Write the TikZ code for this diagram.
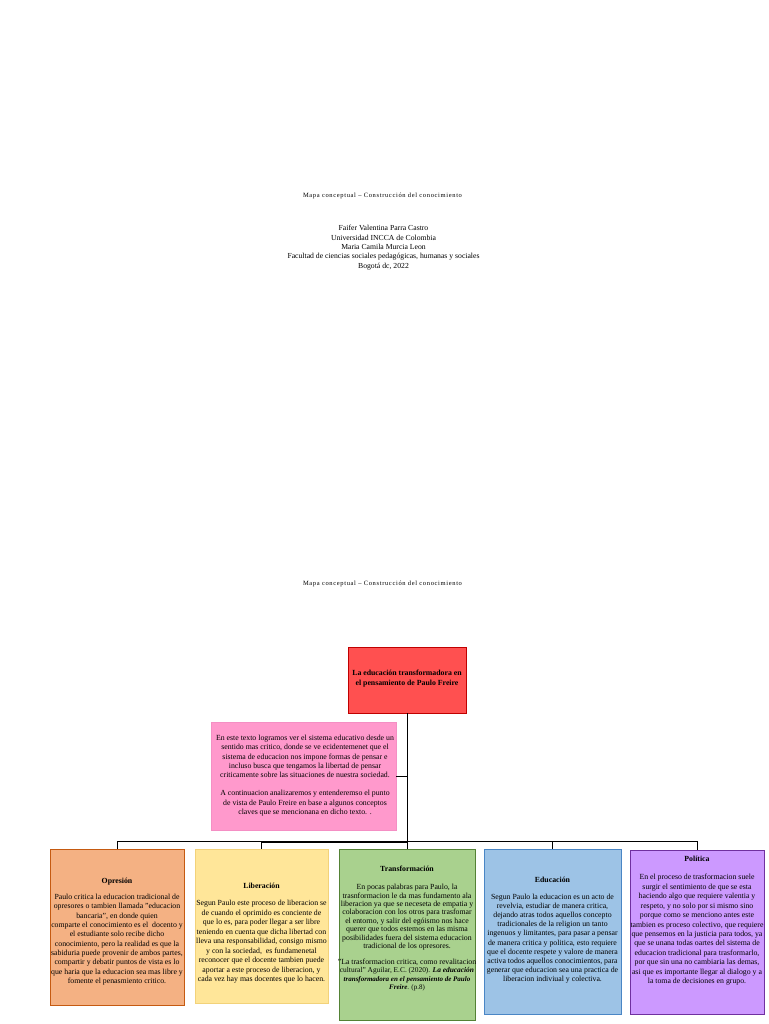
\documentclass[tikz,border=0pt]{standalone}
\usepackage{fontspec}
\setmainfont{Liberation Serif}
\definecolor{redF}{HTML}{FF5050}
\definecolor{redD}{HTML}{C00000}
\definecolor{pinkF}{HTML}{FF99CC}
\definecolor{pinkD}{HTML}{F48FC4}
\definecolor{orangeF}{HTML}{F4B183}
\definecolor{orangeD}{HTML}{C55A11}
\definecolor{yellowF}{HTML}{FFE699}
\definecolor{yellowD}{HTML}{F2D27A}
\definecolor{greenF}{HTML}{A9D18E}
\definecolor{greenD}{HTML}{548235}
\definecolor{blueF}{HTML}{9DC3E6}
\definecolor{blueD}{HTML}{4A86C5}
\definecolor{purpleF}{HTML}{CC99FF}
\definecolor{purpleD}{HTML}{7030A0}
\begin{document}
\begin{tikzpicture}[x=1pt,y=-1pt,
  box/.style={draw, line width=0.9pt, inner sep=0pt},
  txt/.style={inner sep=0pt, align=center, anchor=north, font=\fontsize{7.8}{9.3}\selectfont},
  con/.style={draw=black, line width=0.9pt},
  hdr/.style={inner sep=0pt, font=\fontsize{6.5}{8}\selectfont\addfontfeature{LetterSpace=10}}]
\useasboundingbox[fill=white] (0,0) rectangle (768,1024);

% header texts
\node[hdr] (t1) at (382.5,196) {Mapa conceptual – Construcción del conocimiento};
\node[txt, font=\fontsize{7.7}{9.4}\selectfont] (auth) at (383.5,225) {Faifer Valentina Parra Castro\\Universidad INCCA de Colombia\\Maria Camila Murcia Leon\\Facultad de ciencias sociales pedagógicas, humanas y sociales\\Bogotá dc, 2022};
\node[hdr] (t2) at (382.5,584) {Mapa conceptual – Construcción del conocimiento};

% top box
\node[box, fill=redF, draw=redD, minimum width=118pt, minimum height=66pt] (red) at (407,680) {};
\node[txt, font=\bfseries\fontsize{7.8}{10}\selectfont] (redT) at (407,669.5) {La educación transformadora en\\el pensamiento de Paulo Freire};

% pink box
\node[box, fill=pinkF, draw=pinkD, minimum width=185pt, minimum height=108pt] (pink) at (303.5,776) {};
\node[txt] (pinkT) at (305,735) {En este texto logramos ver el sistema educativo desde un\\sentido mas critico, donde se ve ecidentemenet que el\\sistema de educacion nos impone formas de pensar e\\incluso busca que tengamos la libertad de pensar\\criticamente sobre las situaciones de nuestra sociedad.\\[8.7pt]A continuacion analizaremos y entenderemso el punto\\de vista de Paulo Freire en base a algunos conceptos\\claves que se mencionana en dicho texto. .};

% bottom boxes
\node[box, fill=orangeF, draw=orangeD, minimum width=134pt, minimum height=156pt] (op) at (117,927) {};
\node[box, fill=yellowF, draw=yellowD, minimum width=133pt, minimum height=154pt] (li) at (261.5,926) {};
\node[box, fill=greenF, draw=greenD, minimum width=136pt, minimum height=171pt] (tr) at (407,934.5) {};
\node[box, fill=blueF, draw=blueD, minimum width=137pt, minimum height=165pt] (ed) at (552.5,931.5) {};
\node[box, fill=purpleF, draw=purpleD, minimum width=134pt, minimum height=164pt] (po) at (697,932) {};

\node[txt] (opT) at (117,878) {{\bfseries Opresión}\\[6.7pt]Paulo critica la educacion tradicional de\\opresores o tambien llamada "educacion\\bancaria", en donde quien\\comparte el conocimiento es el \ docento y\\el estudiante solo recibe dicho\\conocimiento, pero la realidad es que la\\sabiduria puede provenir de ambos partes,\\compartir y debatir puntos de vista es lo\\que haria que la educacion sea mas libre y\\fomente el penasmiento critico.};

\node[txt, font=\fontsize{7.8}{9.5}\selectfont] (liT) at (261.5,883) {{\bfseries Liberación}\\[7.5pt]Segun Paulo este proceso de liberacion se\\de cuando el oprimido es conciente de\\que lo es, para poder llegar a ser libre\\teniendo en cuenta que dicha libertad con\\lleva una responsabilidad, consigo mismo\\y con la sociedad, \ es fundamenetal\\reconocer que el docente tambien puede\\aportar a este proceso de liberacion, y\\cada vez hay mas docentes que lo hacen.};

\node[txt, font=\fontsize{7.8}{8.4}\selectfont] (trT) at (407,866) {{\bfseries Transformación}\\[9.5pt]En pocas palabras para Paulo, la\\trasnformacion le da mas fundamento ala\\liberacion ya que se neceseta de empatia y\\colaboracion con los otros para trasfomar\\el entorno, y salir del egóismo nos hace\\querer que todos estemos en las misma\\posibilidades fuera del sistema educacion\\tradicional de los opresores.\\[7.5pt]"La trasformacion critica, como revalitacion\\{\fontsize{7.4}{8.4}\selectfont cultural" Aguilar, E.C. (2020). {\bfseries\itshape La educación}}\\{\fontsize{7}{8.4}\selectfont\bfseries\itshape transformadora en el pensamiento de Paulo}\\{\fontsize{7}{8.4}\selectfont{\bfseries\itshape Freire}. (p.8)}};

\node[txt, font=\fontsize{7.8}{9.1}\selectfont] (edT) at (552.5,877) {{\bfseries Educación}\\[7.8pt]Segun Paulo la educacion es un acto de\\revelvia, estudiar de manera critica,\\dejando atras todos aquellos concepto\\tradicionales de la religion un tanto\\ingenuos y limitantes, para pasar a pensar\\de manera critica y politica, esto requiere\\que el docente respete y valore de manera\\activa todos aquellos conocimientos, para\\generar que educacion sea una practica de\\liberacion indiviual y colectiva.};

\node[txt, font=\fontsize{7.8}{9.45}\selectfont] (poT) at (697,856) {{\bfseries Política}\\[8.7pt]En el proceso de trasformacion suele\\surgir el sentimiento de que se esta\\haciendo algo que requiere valentia y\\respeto, y no solo por si mismo sino\\porque como se menciono antes este\\tambien es proceso colectivo, que requiere\\que pensemos en la justicia para todos, ya\\que se unana todas oartes del sistema de\\educacion tradicional para trasformarlo,\\por que sin una no cambiaria las demas,\\asi que es importante llegar al dialogo y a\\la toma de decisiones en grupo.};

% connectors
\coordinate (hub) at (407,841);
\coordinate (hubL) at (li.north |- hub);
\draw[con] (red.south) -- (hub);
\draw[con] (pink.east) -- (pink.east -| hub);
\draw[con] (op.north |- hub) -- (po.north |- hub);
\draw[con] ([yshift=-1.5pt]hubL) -- ([yshift=-1.5pt]hub);
\draw[con] (op.north |- hub) -- (op.north);
\draw[con] (hubL) -- (li.north);
\draw[con] (hub) -- (tr.north);
\draw[con] (ed.north |- hub) -- (ed.north);
\draw[con] (po.north |- hub) -- (po.north);
\end{tikzpicture}
\end{document}
